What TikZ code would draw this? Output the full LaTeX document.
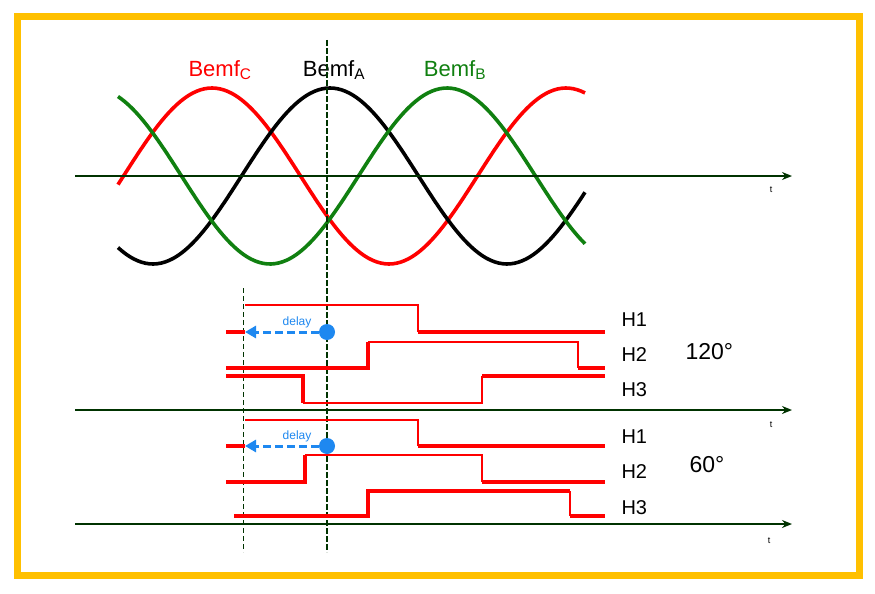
\documentclass[tikz,border=0pt]{standalone}
\usepackage{fontspec}
\setmainfont{Liberation Sans}
\usetikzlibrary{arrows.meta}
\definecolor{dg}{HTML}{003300}
\definecolor{rd}{HTML}{FF0000}
\definecolor{gn}{HTML}{108010}
\definecolor{bl}{HTML}{1E88F0}
\definecolor{yl}{HTML}{FFC000}
\begin{document}
\begin{tikzpicture}[x=1pt,y=-1pt,
 axis/.style={dg,line width=2.6pt,-{Stealth[length=10pt,width=8pt]}},
 wave/.style={line width=3.6pt,smooth,samples=120,domain=118:585},
 thk/.style={rd,line width=3.4pt},
 thn/.style={rd,line width=1.3pt},
 lab/.style={font=\fontsize{20}{20}\selectfont,anchor=west},
 tl/.style={font=\fontsize{9}{9}\selectfont}]
\useasboundingbox (0,0) rectangle (875,594);
\fill[white] (0,0) rectangle (875,594);
\draw[yl,line width=7pt] (17,17) rectangle (859,575);
% waves
\draw[wave,rd] plot (\x,{176-88*cos((\x-212)/354*360)});
\draw[wave,black] plot (\x,{176-88*cos((\x-330)/354*360)});
\draw[wave,gn] plot (\x,{176-88*cos((\x-447)/354*360)});
\node[rd,font=\fontsize{22}{22}\selectfont] (bc) at (220,70) {Bemf\textsubscript{C}};
\node[black,font=\fontsize{22}{22}\selectfont] (ba) at (334,70) {Bemf\textsubscript{A}};
\node[gn,font=\fontsize{22}{22}\selectfont] (bb) at (455,70) {Bemf\textsubscript{B}};
% axes
\coordinate (a1s) at (75,176); \coordinate (a1e) at (792,176);
\coordinate (a2s) at (75,410); \coordinate (a2e) at (792,410);
\coordinate (a3s) at (75,524); \coordinate (a3e) at (792,524);
\draw[axis] (a1s) -- (a1e); \draw[axis] (a2s) -- (a2e); \draw[axis] (a3s) -- (a3e);
\node[tl] (t1) at (771,190) {t}; \node[tl] (t2) at (771,425) {t}; \node[tl] (t3) at (769,541) {t};
% vertical lines
\coordinate (v1) at (327,40); \coordinate (v2) at (327,552);
\draw[dg,line width=2.6pt,dash pattern=on 6pt off 2pt] (v1) -- (v2);
\coordinate (w1) at (243,288); \coordinate (w2) at (243,552);
\draw[dg,line width=1pt,dash pattern=on 5pt off 3pt] (w1) -- (w2);
% 120 deg
\draw[thk] (226,332) -- (245,332);
\draw[thn] (245,305) -- (418,305) -- (418,332);
\draw[thk] (418,332) -- (605,332);
\draw[thk] (226,368) -- (368,368) -- (368,342);
\draw[thn] (368,342) -- (578,342) -- (578,368);
\draw[thk] (578,368) -- (605,368);
\draw[thk] (226,376) -- (303,376) -- (303,403);
\draw[thn] (303,403) -- (482,403) -- (482,376);
\draw[thk] (482,376) -- (605,376);
% 60 deg
\draw[thk] (226,446) -- (245,446);
\draw[thn] (245,420) -- (418,420) -- (418,446);
\draw[thk] (418,446) -- (605,446);
\draw[thk] (226,482) -- (305,482) -- (305,455);
\draw[thn] (305,455) -- (482,455) -- (482,482);
\draw[thk] (482,482) -- (605,482);
\draw[thk] (234,516) -- (368,516) -- (368,491) -- (570,491);
\draw[thn] (570,491) -- (570,516);
\draw[thk] (570,516) -- (605,516);
% delay
\node[circle,fill=bl,inner sep=0pt,minimum size=16pt] (d1) at (327,332) {};
\coordinate (e1) at (245,332);
\draw[bl,line width=3pt,dash pattern=on 8pt off 4pt,-{Triangle[length=11pt,width=12pt]}] (d1) -- (e1);
\node[bl,font=\fontsize{12}{12}\selectfont] (dl1) at (297,322) {delay};
\node[circle,fill=bl,inner sep=0pt,minimum size=16pt] (d2) at (327,446) {};
\coordinate (e2) at (245,446);
\draw[bl,line width=3pt,dash pattern=on 8pt off 4pt,-{Triangle[length=11pt,width=12pt]}] (d2) -- (e2);
\node[bl,font=\fontsize{12}{12}\selectfont] (dl2) at (297,436) {delay};
% labels
\node[lab] (h1) at (618,320) {H1};
\node[lab] (h2) at (618,355) {H2};
\node[lab] (h3) at (618,390) {H3};
\node[lab,font=\fontsize{23}{23}\selectfont] (g1) at (682,352) {120°};
\node[lab] (h4) at (618,437) {H1};
\node[lab] (h5) at (618,472) {H2};
\node[lab] (h6) at (618,508) {H3};
\node[lab,font=\fontsize{23}{23}\selectfont] (g2) at (686,465) {60°};
\end{tikzpicture}
\end{document}
